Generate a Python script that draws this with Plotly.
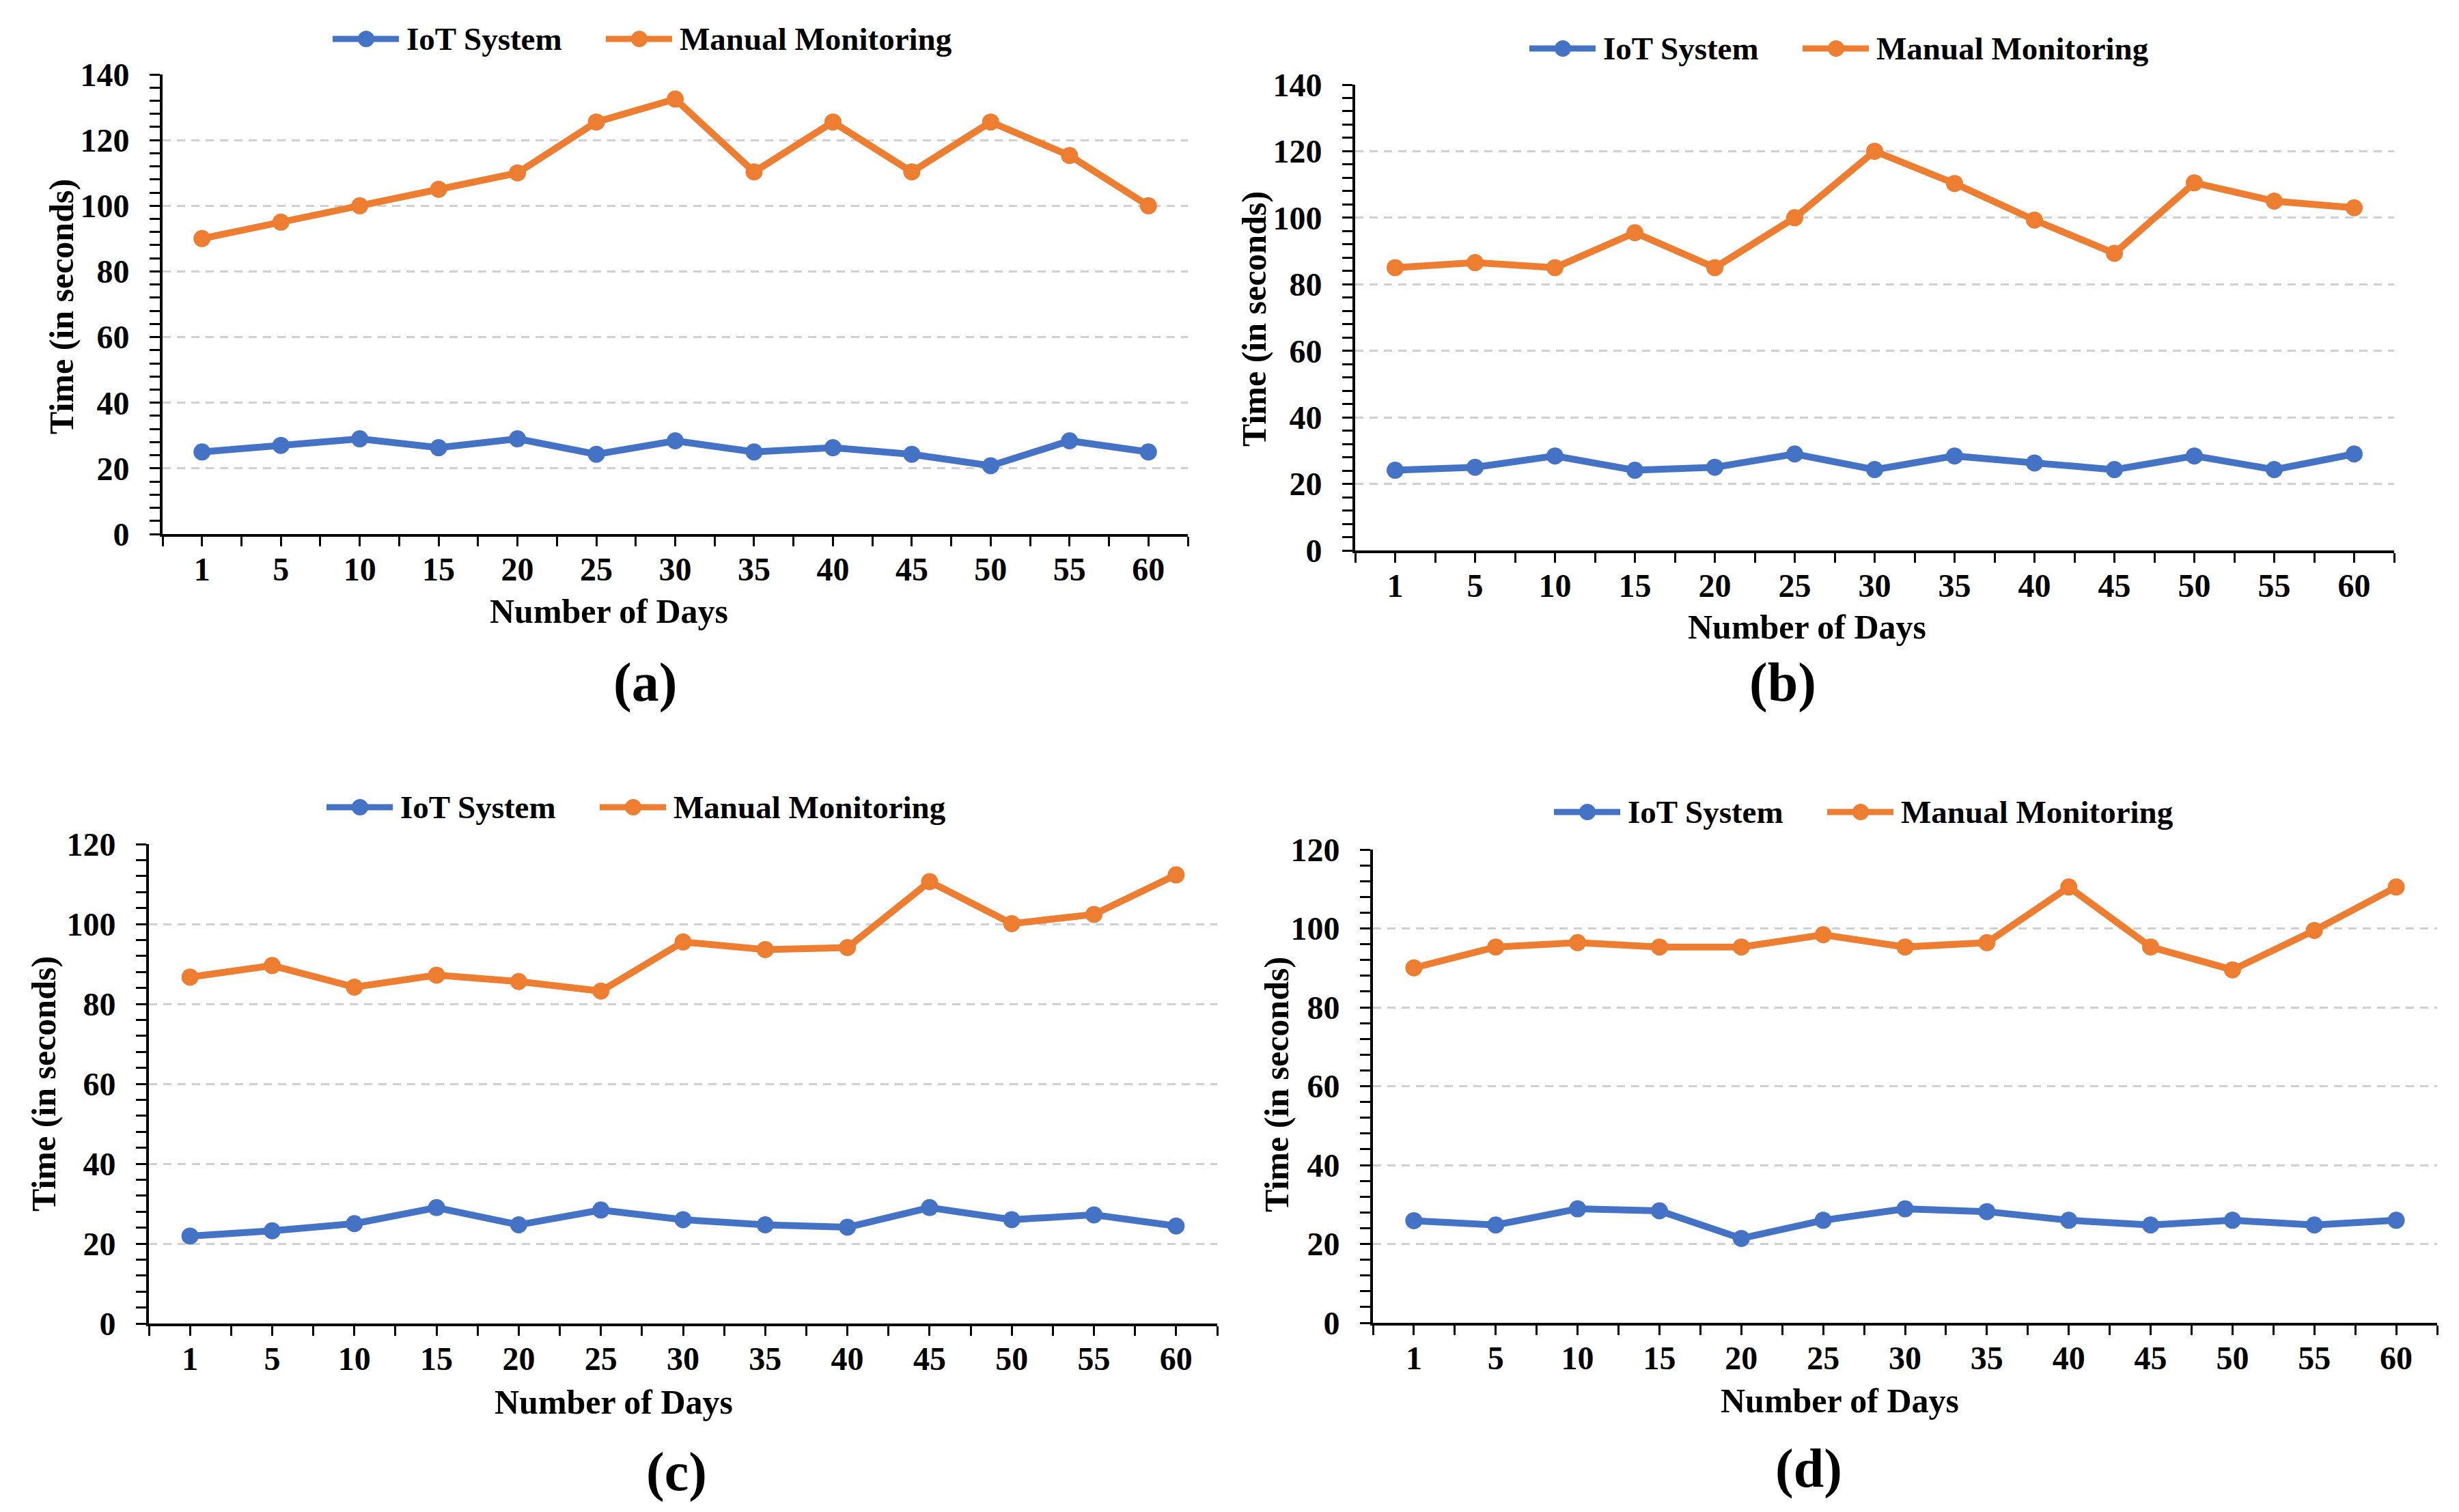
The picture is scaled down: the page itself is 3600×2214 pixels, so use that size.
import plotly.graph_objects as go

# page body has an 8px margin; size the figure so page == 3600x2214 window
PAGE_W, PAGE_H = 3600, 2214
BODY_MARGIN = 8
W, H = PAGE_W - 2 * BODY_MARGIN, PAGE_H - 2 * BODY_MARGIN

days = ["1", "5", "10", "15", "20", "25", "30", "35", "40", "45", "50", "55", "60"]

a_iot = [25, 27, 29, 26.3, 29, 24.3, 28.4, 25, 26.3, 24.3, 20.8, 28.4, 25]
a_man = [90, 95, 100, 105, 110, 125.5, 132.5, 110.3, 125.5, 110.3, 125.5, 115.3, 100]
b_iot = [24.1, 25, 28.4, 24.1, 25, 29, 24.3, 28.4, 26.3, 24.3, 28.4, 24.3, 29]
b_man = [85, 86.5, 85, 95.5, 85, 100, 120, 110.3, 99.3, 89.3, 110.5, 105, 103]
c_iot = [21.9, 23.2, 25, 29, 24.7, 28.4, 26, 24.7, 24.1, 29, 26, 27.2, 24.4]
c_man = [86.7, 89.6, 84.2, 87.2, 85.6, 83.2, 95.5, 93.6, 94.1, 110.6, 100.1, 102.4, 112.3]
d_iot = [25.9, 24.8, 28.9, 28.4, 21.4, 26, 28.9, 28.2, 26, 24.8, 26, 24.8, 26]
d_man = [90, 95.3, 96.4, 95.3, 95.3, 98.4, 95.3, 96.4, 110.5, 95.3, 89.5, 99.5, 110.5]

series_names = ["IoT System", "Manual Monitoring"]
panel_labels = ["(a)", "(b)", "(c)", "(d)"]
y_max = [140, 140, 120, 120]

BLUE = "#4472C4"
ORANGE = "#ED7D31"
FONT = "Liberation Serif"

# geometry in page pixels
panels = [
    (238, 1739, 109, 782),
    (1984, 3505, 124, 806),
    (218, 1782, 1236, 1938),
    (2010, 3568, 1244, 1937),
]
legend_left = [487, 2239, 478, 2275]
legend_y = [57, 71, 1182, 1189]
xtitle_pos = [(891, 895), (2645, 918), (898, 2053), (2693, 2051)]
ytitle_pos = [(90, 449), (1836, 467), (64, 1587), (1869, 1588)]
label_pos = [(944, 999), (2610, 999), (990, 2155), (2648, 2150)]

data = [(a_iot, a_man), (b_iot, b_man), (c_iot, c_man), (d_iot, d_man)]


def px(x):
    return (x - BODY_MARGIN) / W


def py(y):
    return 1 - (y - BODY_MARGIN) / H


fig = go.Figure()

xs = list(range(len(days)))
tickvals = [i / 2 - 0.5 for i in range(2 * len(days) + 1)]
ticktext = ["" if i % 2 == 0 else "<b>%s</b>" % days[i // 2] for i in range(2 * len(days) + 1)]

annotations = []
shapes = []

for k in range(4):
    xl, xr, yt, yb = panels[k]
    suffix = "" if k == 0 else str(k + 1)
    iot, man = data[k]
    fig.add_trace(go.Scatter(
        x=xs, y=iot, mode="lines+markers", name=series_names[0],
        line=dict(color=BLUE, width=10), marker=dict(color=BLUE, size=25),
        xaxis="x" + suffix, yaxis="y" + suffix, showlegend=False))
    fig.add_trace(go.Scatter(
        x=xs, y=man, mode="lines+markers", name=series_names[1],
        line=dict(color=ORANGE, width=10), marker=dict(color=ORANGE, size=25),
        xaxis="x" + suffix, yaxis="y" + suffix, showlegend=False))

    fig.layout["xaxis" + suffix] = dict(
        domain=[px(xl), px(xr)], anchor="y" + suffix, automargin=False,
        range=[-0.5, len(days) - 0.5],
        tickmode="array", tickvals=tickvals, ticktext=ticktext,
        ticks="outside", ticklen=14, tickwidth=3, tickcolor="black",
        showline=True, linewidth=4, linecolor="black",
        showgrid=False, zeroline=False,
        tickfont=dict(family=FONT, size=48, color="black"),
        ticklabelstandoff=-8,
    )
    fig.layout["yaxis" + suffix] = dict(
        domain=[py(yb), py(yt)], anchor="x" + suffix, automargin=False,
        range=[0, y_max[k]], tickmode="linear", tick0=0, dtick=20,
        ticks="outside", ticklen=15, tickwidth=3, tickcolor="black",
        showline=True, linewidth=4, linecolor="black",
        showgrid=True, gridcolor="#D0D0D0", gridwidth=3, griddash="12px,9px",
        zeroline=False,
        minor=dict(dtick=4, tick0=0, ticks="outside", ticklen=15, tickwidth=3,
                   tickcolor="black", showgrid=False),
        tickfont=dict(family=FONT, size=48, color="black", weight="bold"),
        ticklabelstandoff=20,
    )

    annotations.append(dict(
        x=px(xtitle_pos[k][0]), y=py(xtitle_pos[k][1]), xref="paper", yref="paper",
        text="<b>Number of Days</b>", showarrow=False, xanchor="center", yanchor="middle",
        font=dict(family=FONT, size=50, color="black")))
    annotations.append(dict(
        x=px(ytitle_pos[k][0]), y=py(ytitle_pos[k][1]), xref="paper", yref="paper",
        text="<b>Time (in seconds)</b>", showarrow=False, textangle=-90,
        xanchor="center", yanchor="middle",
        font=dict(family=FONT, size=50, color="black")))
    annotations.append(dict(
        x=px(label_pos[k][0]), y=py(label_pos[k][1]), xref="paper", yref="paper",
        text="<b>%s</b>" % panel_labels[k], showarrow=False,
        xanchor="center", yanchor="middle",
        font=dict(family=FONT, size=80, color="black")))

    L = legend_left[k]
    ly = legend_y[k]
    for j, (col, off) in enumerate([(BLUE, 0), (ORANGE, 400)]):
        x0 = L + off
        shapes.append(dict(type="line", xref="paper", yref="paper",
                           x0=px(x0), x1=px(x0 + 97), y0=py(ly), y1=py(ly),
                           line=dict(color=col, width=9)))
        r = 12
        cx = x0 + 49
        shapes.append(dict(type="circle", xref="paper", yref="paper",
                           x0=px(cx - r), x1=px(cx + r), y0=py(ly + r), y1=py(ly - r),
                           fillcolor=col, line=dict(color=col, width=0)))
        annotations.append(dict(
            x=px(x0 + 106), y=py(ly), xref="paper", yref="paper",
            text="<b>%s</b>" % series_names[j], showarrow=False,
            xanchor="left", yanchor="middle",
            font=dict(family=FONT, size=47, color="black")))

fig.update_layout(
    width=W, height=H,
    margin=dict(l=0, r=0, t=0, b=0, pad=0, autoexpand=False),
    paper_bgcolor="white", plot_bgcolor="white",
    annotations=annotations, shapes=shapes,
    showlegend=False,
)

fig.write_html("out.html")
